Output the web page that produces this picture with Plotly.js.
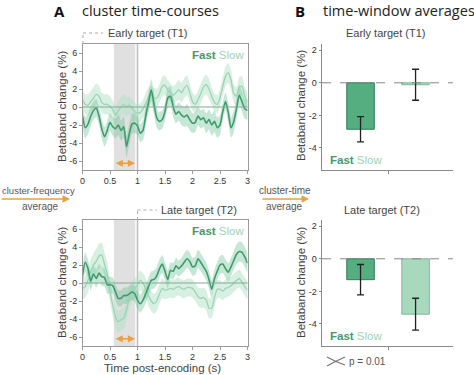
<!DOCTYPE html>
<html>
<head>
<meta charset="utf-8">
<script src="https://cdn.plot.ly/plotly-3.0.1.min.js"></script>
<style>html,body{margin:0;padding:0;background:#fff;}#chart{width:474px;height:375px;}</style>
</head>
<body>
<div id="chart"></div>
<script>
// ---- Data ----
const time = [0,0.05,0.1,0.15,0.2,0.25,0.3,0.35,0.4,0.45,
  0.5,0.55,0.6,0.65,0.7,0.75,0.8,0.85,0.9,0.95,
  1.0,1.05,1.1,1.15,1.2,1.25,1.3,1.35,1.4,1.45,
  1.5,1.55,1.6,1.65,1.7,1.75,1.8,1.85,1.9,1.95,
  2.0,2.05,2.1,2.15,2.2,2.25,2.3,2.35,2.4,2.45,
  2.5,2.55,2.6,2.65,2.7,2.75,2.8,2.85,2.9,2.95,3.0];

const fastT1 = [-1.0,-2.3,-1.9,-1.0,-0.4,-0.1,-1.0,-2.4,-3.3,-2.6,
  -1.7,-2.2,-2.4,-2.0,-2.6,-2.2,-4.4,-3.0,-1.9,-1.8,
  -2.1,-2.9,-2.6,-1.0,0.5,1.9,0.3,-1.2,-1.6,-1.4,
  -0.5,1.0,1.2,0.0,-0.8,-0.5,-0.9,-1.1,-0.9,-1.4,
  -1.8,-1.7,-1.0,-1.4,-1.2,-1.8,-1.4,-2.0,-1.6,-2.3,
  -2.0,-0.5,0.6,-0.6,-2.3,-1.6,-0.2,1.3,0.6,-0.2,-0.4];
const fastT1Sem = [1.2,1.2,1.1,1.1,1.0,1.0,1.0,1.1,1.1,1.1,
  1.0,1.0,1.1,1.1,1.1,1.2,1.2,1.2,1.1,1.1,
  1.0,1.0,1.1,1.1,1.1,1.2,1.2,1.1,1.0,1.0,
  1.0,1.1,1.1,1.1,1.0,1.0,1.1,1.1,1.2,1.2,
  1.1,1.1,1.0,1.0,1.0,1.1,1.1,1.2,1.2,1.1,
  1.1,1.0,1.0,1.1,1.1,1.2,1.2,1.2,1.1,1.1,1.0];
const slowT1 = [0.8,0.3,0.2,0.6,1.0,1.4,1.2,0.5,0.3,0.3,
  0.1,-0.3,-0.9,-0.4,0.0,0.3,0.0,0.2,-0.1,-0.5,
  -0.7,-0.6,-0.2,0.4,1.1,1.3,1.0,1.0,1.5,2.3,
  2.4,1.9,1.6,1.3,1.6,1.9,1.6,2.1,2.4,1.6,
  0.6,0.3,0.8,1.5,2.2,2.5,2.0,1.2,0.5,0.3,
  1.0,2.3,3.4,3.8,3.0,1.5,1.2,2.2,2.3,1.2,0.6];
const slowT1Sem = [1.1,1.1,1.2,1.2,1.2,1.2,1.2,1.1,1.1,1.1,
  1.1,1.0,1.0,1.0,1.1,1.1,1.1,1.0,1.0,1.0,
  1.0,1.0,1.0,1.1,1.1,1.1,1.1,1.0,1.0,1.1,
  1.1,1.1,1.0,1.0,1.0,1.1,1.1,1.1,1.1,1.0,
  1.0,1.0,1.0,1.1,1.1,1.1,1.1,1.0,1.0,1.0,
  1.0,1.0,1.1,1.1,1.1,1.0,1.0,1.1,1.1,1.0,1.0];

const fastT2 = [0.8,2.3,1.6,0.2,1.0,0.5,1.1,0.7,0.6,-0.2,
  -0.2,-0.3,-1.0,-1.7,-1.7,-1.4,-1.4,-1.2,-1.0,-1.2,
  -1.9,-2.3,-1.9,-1.2,-0.4,0.3,0.4,0.8,1.6,2.1,
  1.3,0.4,1.4,1.3,1.9,1.6,1.9,2.3,2.7,2.4,
  1.8,1.9,2.7,2.3,1.8,1.3,0.4,-0.7,0.5,1.3,
  2.0,2.1,1.6,1.2,1.8,2.5,3.2,3.5,3.4,2.9,2.2];
const fastT2Sem = [1.1,1.1,1.0,1.0,1.0,1.0,1.0,1.0,1.0,1.0,
  0.9,0.9,0.9,0.9,0.9,0.9,0.9,0.9,0.9,0.9,
  1.0,1.0,1.0,1.0,1.0,1.0,1.0,1.0,1.0,1.0,
  1.0,1.0,0.9,0.9,0.9,0.9,0.9,1.0,1.0,1.0,
  1.0,1.0,1.0,1.0,1.0,1.0,1.0,1.0,1.0,1.0,
  1.0,1.0,1.0,1.0,1.0,1.0,1.1,1.1,1.1,1.1,1.1];
const slowT2 = [-0.6,-0.4,0.3,1.3,2.0,2.4,3.0,3.1,2.1,1.0,
  -0.9,-2.5,-3.8,-4.3,-4.1,-3.9,-3.0,-1.7,-1.0,-0.6,
  -0.2,0.3,0.0,-0.6,-1.4,-2.0,-2.3,-2.0,-1.2,-0.6,
  -0.8,-0.7,-0.6,-0.7,-0.5,-0.4,-0.6,-0.7,-0.5,-0.5,
  -0.6,-1.0,-1.5,-1.7,-1.6,-1.9,-2.8,-2.8,-1.6,-0.7,
  -0.7,-0.9,-0.6,-0.5,-0.3,0.0,0.3,0.5,0.1,-0.4,-0.8];
const slowT2Sem = [1.2,1.2,1.3,1.3,1.3,1.4,1.4,1.4,1.3,1.3,
  1.2,1.2,1.2,1.2,1.2,1.2,1.2,1.1,1.1,1.1,
  1.1,1.1,1.1,1.1,1.1,1.1,1.1,1.1,1.1,1.1,
  1.0,1.0,1.0,1.0,1.0,1.0,1.0,1.0,1.0,1.0,
  1.0,1.0,1.0,1.1,1.1,1.1,1.1,1.1,1.1,1.0,
  1.0,1.0,1.0,1.0,1.0,1.0,1.0,1.0,1.0,1.0,1.0];

const barGroups = ['Fast','Slow'];
const barPos = [1, 2];
const barT1 = [-2.85, -0.12];
const barT1Err = [0.78, 0.95];
const barT2 = [-1.28, -3.4];
const barT2Err = [0.93, 0.98];

const timeTickVals = [0,0.5,1,1.5,2,2.5,3];
const timeTickText = ['0','0.5','1','1.5','2','2.5','3'];
const tcTickVals = [-6,-4,-2,0,2,4,6];
const tcTickText = ['-6','-4','-2','0','2','4','6'];
const barTickVals = [-4,-2,0,2];
const barTickText = ['-4','-2','0','2'];

// ---- Styles ----
const FAST = '#3f9a6c', SLOW = '#9dd3b5';
const FAST_BAND = 'rgba(105,192,148,0.38)', SLOW_BAND = 'rgba(175,226,198,0.5)';
const ORANGE = '#e9a043';
const W = 474, H = 375;
const px = v => v / W, py = v => 1 - v / H;

function band(x, m, s, color, xa, ya) {
  const up = m.map((v, i) => v + s[i]);
  const lo = m.map((v, i) => v - s[i]);
  return {x: x.concat(x.slice().reverse()), y: up.concat(lo.slice().reverse()),
    fill: 'toself', fillcolor: color, line: {width: 0, shape: 'spline', smoothing: 0.6}, mode: 'lines',
    hoverinfo: 'skip', xaxis: xa, yaxis: ya, type: 'scatter'};
}
function line(x, y, color, w, xa, ya) {
  return {x: x, y: y, mode: 'lines', line: {color: color, width: w, shape: 'spline', smoothing: 0.6}, xaxis: xa, yaxis: ya, type: 'scatter'};
}
function bars(vals, errs, xa, ya) {
  return barGroups.map((g, i) => ({
    type: 'bar', x: [barPos[i]], y: [vals[i]], width: 0.5,
    marker: {color: i === 0 ? '#55ae80' : '#a8d9bd', line: {color: i === 0 ? '#2f7d57' : '#7fb899', width: 1}},
    error_y: {type: 'data', array: [errs[i]], visible: true, color: '#222', thickness: 1.3, width: 3.5},
    xaxis: xa, yaxis: ya, name: g
  }));
}

const traces = [
  band(time, slowT1, slowT1Sem, SLOW_BAND, 'x', 'y'),
  band(time, fastT1, fastT1Sem, FAST_BAND, 'x', 'y'),
  line(time, slowT1, SLOW, 1.3, 'x', 'y'),
  line(time, fastT1, FAST, 1.6, 'x', 'y'),
  band(time, slowT2, slowT2Sem, SLOW_BAND, 'x2', 'y2'),
  band(time, fastT2, fastT2Sem, FAST_BAND, 'x2', 'y2'),
  line(time, slowT2, SLOW, 1.3, 'x2', 'y2'),
  line(time, fastT2, FAST, 1.6, 'x2', 'y2'),
  ...bars(barT1, barT1Err, 'x3', 'y3'),
  ...bars(barT2, barT2Err, 'x4', 'y4')
];

const tickFont = {family: 'Liberation Sans, Arial, sans-serif', size: 9, color: '#333'};
function tcX(dom, anchor) {
  return {domain: dom, anchor: anchor, range: [0, 3], tickvals: timeTickVals, ticktext: timeTickText,
    showline: true, linecolor: '#9a9a9a', linewidth: 1, mirror: true, ticks: 'outside', ticklen: 2.5,
    tickcolor: '#9a9a9a', showgrid: false, zeroline: false, tickfont: tickFont, fixedrange: true};
}
function tcY(dom, anchor) {
  return {domain: dom, anchor: anchor, range: [-7, 7], tickvals: tcTickVals, ticktext: tcTickText,
    showline: true, linecolor: '#9a9a9a', linewidth: 1, mirror: true, ticks: 'outside', ticklen: 2.5,
    tickcolor: '#9a9a9a', showgrid: false, zeroline: false, tickfont: tickFont};
}
function bX(dom, anchor) {
  return {domain: dom, anchor: anchor, range: [0.3, 2.68], tickvals: [1.5], ticktext: [''],
    showline: true, linecolor: '#8a8a8a', linewidth: 1, ticks: 'outside', ticklen: 2.5, tickcolor: '#8a8a8a',
    showgrid: false, zeroline: false};
}
function bY(dom, anchor) {
  return {domain: dom, anchor: anchor, range: [-5.35, 2.38], tickvals: barTickVals, ticktext: barTickText,
    showline: true, linecolor: '#8a8a8a', linewidth: 1, ticks: 'outside', ticklen: 2.5, tickcolor: '#8a8a8a',
    showgrid: false, zeroline: false, tickfont: tickFont};
}

const topDom = [py(170), py(44)];
const botDom = [py(346), py(220)];
const leftDom = [px(82.5), px(247.5)];
const rightDom = [px(322), px(453)];

const shapes = [];
[['x','y'],['x2','y2']].forEach(([xa, ya]) => {
  shapes.push({type: 'rect', xref: xa, yref: ya + ' domain', x0: 0.57, x1: 0.96, y0: 0, y1: 1,
    fillcolor: 'rgba(160,160,160,0.32)', line: {width: 0}, layer: 'below'});
  shapes.push({type: 'line', xref: xa, yref: ya + ' domain', x0: 1, x1: 1, y0: 0, y1: 1,
    line: {color: '#bdbdbd', width: 1.5}, layer: 'below'});
  shapes.push({type: 'line', xref: xa + ' domain', yref: ya, x0: 0, x1: 1, y0: 0, y1: 0,
    line: {color: '#86a996', width: 1}, layer: 'above'});
});
[['x3','y3'],['x4','y4']].forEach(([xa, ya]) => {
  shapes.push({type: 'line', xref: xa + ' domain', yref: ya, x0: 0, x1: 1, y0: 0, y1: 0,
    line: {color: '#888', width: 1, dash: 'dash'}, layer: 'above'});
});
const dot = {color: '#aaa', width: 1, dash: 'dot'};
shapes.push({type: 'line', xref: 'paper', yref: 'paper', x0: px(83), x1: px(83), y0: py(44), y1: py(33), line: dot});
shapes.push({type: 'line', xref: 'paper', yref: 'paper', x0: px(83), x1: px(103), y0: py(33), y1: py(33), line: dot});
shapes.push({type: 'line', xref: 'paper', yref: 'paper', x0: px(137.5), x1: px(137.5), y0: py(220), y1: py(210), line: dot});
shapes.push({type: 'line', xref: 'paper', yref: 'paper', x0: px(137.5), x1: px(157), y0: py(210), y1: py(210), line: dot});
shapes.push({type: 'path', xref: 'paper', yref: 'paper',
  path: `M ${px(327)} ${py(357)} Q ${px(336)} ${py(362)} ${px(345)} ${py(365)} M ${px(327)} ${py(366)} Q ${px(336)} ${py(361)} ${px(345)} ${py(357)}`,
  line: {color: '#777', width: 1.3}});

const gray = '#444';
const annFont = (s, c, fam) => ({family: fam || 'Liberation Sans, Arial, sans-serif', size: s, color: c || gray});
function txt(text, x, y, font, extra) {
  return Object.assign({text: text, x: px(x), y: py(y), xref: 'paper', yref: 'paper', showarrow: false,
    xanchor: 'center', yanchor: 'middle', font: font}, extra || {});
}
const legendTxt = '<b>Fast</b> <span style="color:' + SLOW + '">Slow</span>';
const annotations = [
  txt('<b>A</b>', 59, 0, annFont(15, '#111', 'Open Sans, sans-serif'), {yanchor: 'top', borderpad: 0}),
  txt('cluster time-courses', 81, 0, annFont(14.5, '#222', 'Open Sans, sans-serif'), {xanchor: 'left', yanchor: 'top', borderpad: 0}),
  txt('<b>B</b>', 300, 0, annFont(15, '#111', 'Open Sans, sans-serif'), {yanchor: 'top', borderpad: 0}),
  txt('time-window averages', 322, 0, annFont(14.5, '#222', 'Open Sans, sans-serif'), {xanchor: 'left', yanchor: 'top', borderpad: 0}),
  txt('Early target (T1)', 106, 33, annFont(11), {xanchor: 'left'}),
  txt('Late target (T2)', 159, 210, annFont(11), {xanchor: 'left'}),
  txt('Early target (T1)', 385, 33, annFont(11)),
  txt('Late target (T2)', 382, 210, annFont(11)),
  txt(legendTxt, 246, 55, annFont(11.5, FAST), {xanchor: 'right'}),
  txt(legendTxt, 246, 231, annFont(11.5, FAST), {xanchor: 'right'}),
  txt(legendTxt, 328, 160, annFont(11.5, FAST), {xanchor: 'left'}),
  txt(legendTxt, 328, 336, annFont(11.5, FAST), {xanchor: 'left'}),
  txt('Betaband change (%)', 62, 107, annFont(11.5), {textangle: -90}),
  txt('Betaband change (%)', 62, 283, annFont(11.5), {textangle: -90}),
  txt('Betaband change (%)', 301, 106, annFont(11.5), {textangle: -90}),
  txt('Betaband change (%)', 301, 283, annFont(11.5), {textangle: -90}),
  txt('Time post-encoding (s)', 162, 368, annFont(11.5)),
  txt('cluster-frequency', 0.5, 190, annFont(9.5, '#555'), {xanchor: 'left', borderpad: 0}),
  txt('average', 40, 206, annFont(10, '#555')),
  txt('cluster-time', 285, 190, annFont(10, '#555')),
  txt('average', 284, 206, annFont(10, '#555')),
  txt('p = 0.01', 347, 361, annFont(10, '#555'), {xanchor: 'left'}),
  {text: '', x: px(70), y: py(199), xref: 'paper', yref: 'paper', showarrow: true, ax: -70, ay: 0, arrowhead: 2, arrowsize: 1, arrowwidth: 1.5, arrowcolor: ORANGE},
  {text: '', x: px(309), y: py(199), xref: 'paper', yref: 'paper', showarrow: true, ax: -48, ay: 0, arrowhead: 2, arrowsize: 1, arrowwidth: 1.5, arrowcolor: ORANGE},
  {text: '', x: 0.955, y: -6.25, ax: 0.575, ay: -6.25, xref: 'x', yref: 'y', axref: 'x', ayref: 'y', showarrow: true, arrowhead: 2, arrowside: 'end+start', arrowsize: 0.9, arrowwidth: 1.6, arrowcolor: ORANGE},
  {text: '', x: 0.955, y: -6.2, ax: 0.575, ay: -6.2, xref: 'x2', yref: 'y2', axref: 'x2', ayref: 'y2', showarrow: true, arrowhead: 2, arrowside: 'end+start', arrowsize: 0.9, arrowwidth: 1.6, arrowcolor: ORANGE}
];

const layout = {
  width: W, height: H, margin: {l: 0, r: 0, t: 0, b: 0},
  paper_bgcolor: '#fff', plot_bgcolor: 'rgba(0,0,0,0)', showlegend: false,
  xaxis: tcX(leftDom, 'y'), yaxis: tcY(topDom, 'x'),
  xaxis2: tcX(leftDom, 'y2'), yaxis2: tcY(botDom, 'x2'),
  xaxis3: bX(rightDom, 'y3'), yaxis3: bY(topDom, 'x3'),
  xaxis4: bX(rightDom, 'y4'), yaxis4: bY(botDom, 'x4'),
  shapes: shapes, annotations: annotations, bargap: 0
};

Plotly.newPlot('chart', traces, layout, {staticPlot: true, displayModeBar: false});
</script>
</body>
</html>
